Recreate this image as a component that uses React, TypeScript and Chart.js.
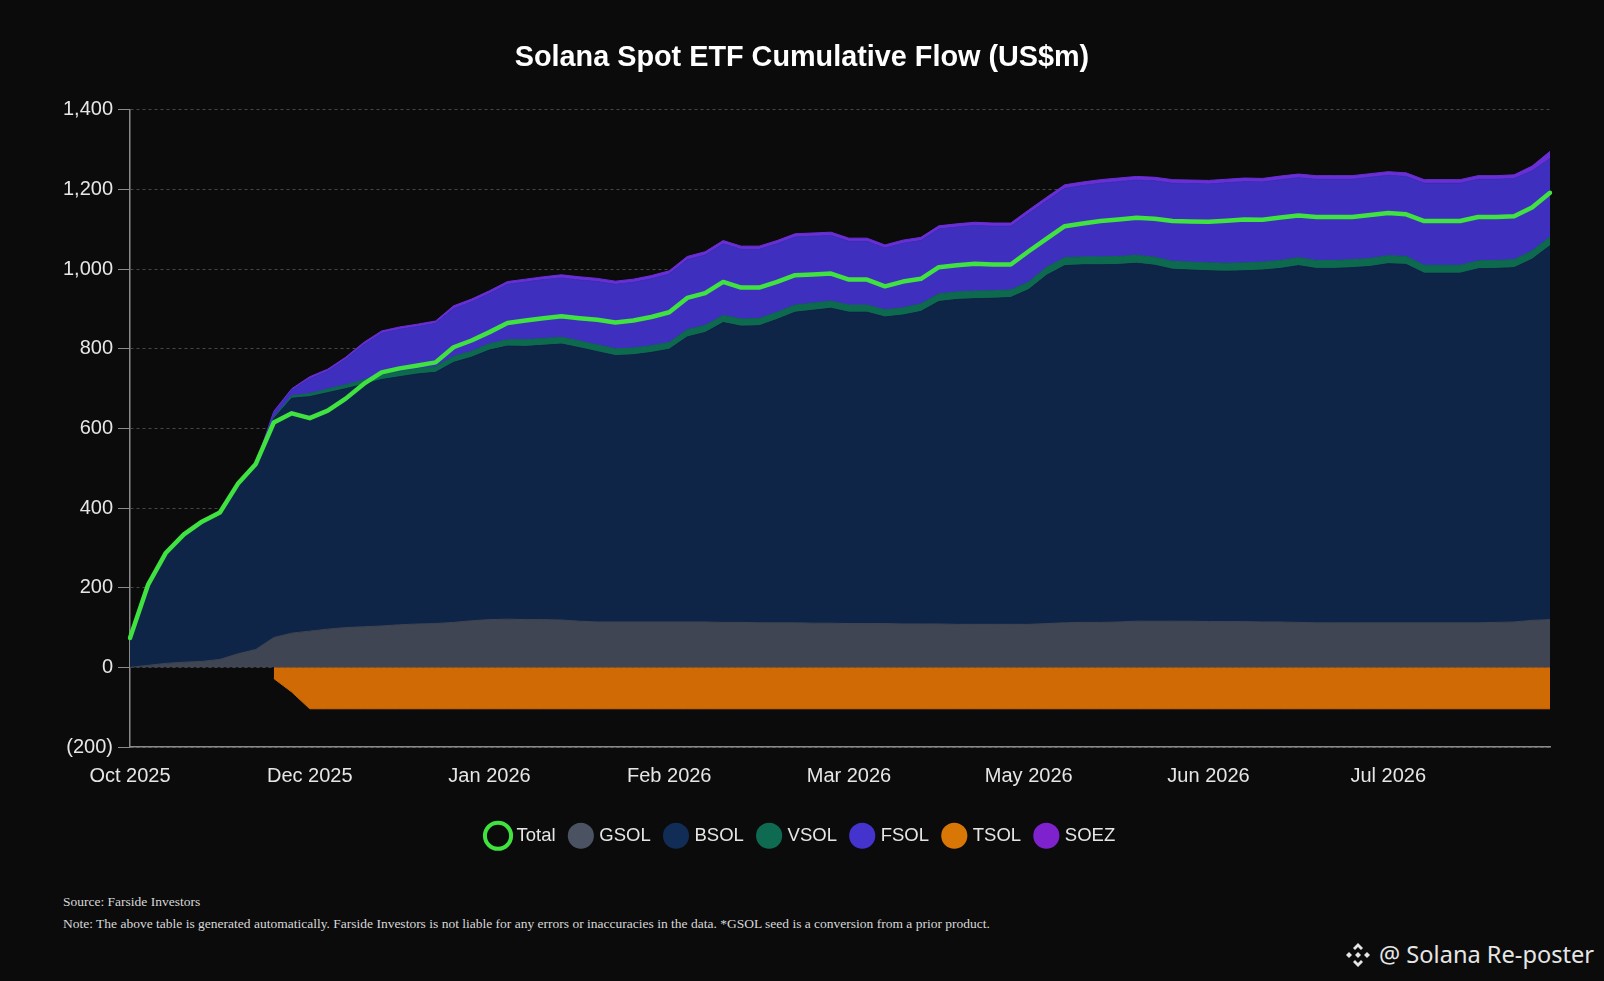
import { useEffect, useRef } from 'react';
import { Chart, registerables } from 'chart.js';

Chart.register(...registerables);

// x axis: one category per sample, a month label every TICK_EVERY samples
const TICK_LABELS = ['Oct 2025', 'Dec 2025', 'Jan 2026', 'Feb 2026', 'Mar 2026', 'May 2026', 'Jun 2026', 'Jul 2026'];
const TICK_EVERY = 10;

const Y_MIN = -200;
const Y_MAX = 1400;
const Y_STEP = 200;

const TOTAL = [
  74, 207, 288, 334, 366, 389, 461, 511, 615, 638,
  626, 645, 675, 712, 741, 751, 758, 766, 804, 821,
  842, 865, 871, 877, 882, 877, 873, 866, 871, 880,
  892, 928, 940, 968, 954, 954, 968, 985, 987, 989,
  974, 974, 957, 969, 976, 1005, 1010, 1014, 1012, 1012,
  1045, 1077, 1108, 1115, 1121, 1125, 1129, 1127, 1121, 1120,
  1119, 1122, 1125, 1124, 1130, 1135, 1131, 1131, 1131, 1136,
  1141, 1138, 1121, 1121, 1121, 1131, 1131, 1133, 1155, 1192,
];

const GSOL = [
  0, 5, 10, 13, 15, 20, 34, 45, 75, 86,
  91, 96, 100, 102, 104, 107, 109, 110, 113, 117,
  120, 121, 120, 120, 119, 116, 114, 114, 114, 114,
  114, 114, 114, 113, 113, 112, 112, 112, 111, 111,
  110, 110, 110, 109, 109, 109, 108, 108, 108, 108,
  108, 110, 112, 113, 113, 114, 116, 116, 116, 116,
  115, 115, 115, 114, 114, 113, 112, 112, 112, 112,
  112, 112, 112, 112, 112, 112, 113, 114, 118, 120,
];

const BSOL = [
  74, 202, 278, 321, 351, 369, 427, 466, 550, 590,
  589, 594, 600, 609, 619, 623, 628, 631, 653, 662,
  677, 686, 686, 689, 693, 687, 679, 669, 671, 677,
  685, 716, 727, 753, 744, 746, 762, 780, 786, 791,
  782, 782, 770, 776, 785, 810, 816, 818, 819, 821,
  841, 875, 897, 898, 898, 898, 899, 894, 884, 882,
  881, 880, 881, 884, 888, 896, 890, 890, 892, 895,
  902, 900, 878, 878, 878, 889, 889, 890, 907, 939,
];

const VSOL = [
  0, 0, 0, 0, 0, 0, 0, 0, 3, 6,
  8, 9, 10, 11, 12, 13, 13, 14, 15, 15,
  16, 16, 17, 17, 17, 17, 17, 17, 17, 17,
  17, 18, 18, 18, 18, 18, 18, 18, 18, 18,
  18, 18, 18, 18, 19, 19, 19, 19, 19, 19,
  19, 20, 20, 20, 20, 20, 20, 20, 20, 20,
  20, 20, 20, 20, 20, 20, 20, 20, 20, 20,
  20, 20, 20, 20, 20, 20, 20, 20, 21, 22,
];

const FSOL = [
  0, 0, 0, 0, 0, 0, 0, 0, 12, 14,
  37, 45, 64, 88, 104, 106, 106, 109, 120, 124,
  126, 139, 145, 148, 149, 153, 159, 162, 165, 168,
  172, 176, 177, 180, 175, 174, 172, 171, 168, 165,
  160, 160, 155, 162, 159, 163, 163, 165, 162, 160,
  172, 167, 174, 179, 185, 188, 189, 192, 196, 197,
  198, 202, 204, 201, 203, 201, 204, 204, 202, 204,
  202, 201, 206, 206, 206, 205, 204, 204, 201, 197,
];

const TSOL = [
  null, null, null, null, null, null, null, null, -28, -62,
  -104, -104, -104, -104, -104, -104, -104, -104, -104, -104,
  -104, -104, -104, -104, -104, -104, -104, -104, -104, -104,
  -104, -104, -104, -104, -104, -104, -104, -104, -104, -104,
  -104, -104, -104, -104, -104, -104, -104, -104, -104, -104,
  -104, -104, -104, -104, -104, -104, -104, -104, -104, -104,
  -104, -104, -104, -104, -104, -104, -104, -104, -104, -104,
  -104, -104, -104, -104, -104, -104, -104, -104, -104, -104,
];

const SOEZ = [
  0, 0, 0, 0, 0, 0, 0, 0, 3, 4,
  5, 5, 5, 6, 6, 6, 6, 6, 7, 7,
  7, 7, 7, 7, 8, 8, 8, 8, 8, 8,
  8, 8, 8, 8, 8, 8, 8, 8, 8, 8,
  8, 8, 8, 8, 8, 8, 8, 8, 8, 8,
  9, 9, 9, 9, 9, 9, 9, 9, 9, 9,
  9, 9, 9, 9, 9, 9, 9, 9, 9, 9,
  9, 9, 9, 9, 9, 9, 9, 9, 12, 18,
];

const CATEGORIES = TOTAL.map((_, i) => i);

const BG = '#0b0b0c';
const GREEN = '#3fe23f';
const FONT = '"Liberation Sans", Arial, sans-serif';
const SERIF = '"Liberation Serif", "Times New Roman", serif';

// area fill colours, and the (slightly brighter) legend dot colours
const AREA = {
  gsol: '#3f4553',
  bsol: '#0f2548',
  vsol: '#0e6a4f',
  fsol: '#3e2fbe',
  tsol: '#cf6a04',
  soez: '#6a2fd4',
};
const LEGEND_COLORS = ['transparent', '#4b5262', '#112c55', '#0e6b52', '#4433cc', '#d97706', '#7e22ce'];

function area(label: string, data: (number | null)[], color: string, fill: string | number, extra: object = {}) {
  return {
    label,
    data,
    backgroundColor: color,
    borderColor: color,
    borderWidth: 1,
    pointRadius: 0,
    pointHoverRadius: 0,
    tension: 0,
    fill,
    ...extra,
  };
}

function ChartCanvas(): React.JSX.Element {
  const canvasRef = useRef<HTMLCanvasElement>(null);
  const chartRef = useRef<Chart | null>(null);

  useEffect(() => {
    if (!canvasRef.current) return;
    if (chartRef.current) chartRef.current.destroy();

    chartRef.current = new Chart(canvasRef.current, {
      type: 'line',
      data: {
        labels: CATEGORIES,
        datasets: [
          {
            label: 'Total',
            data: TOTAL,
            borderColor: GREEN,
            backgroundColor: 'transparent',
            borderWidth: 4.5,
            borderJoinStyle: 'round',
            borderCapStyle: 'round',
            pointRadius: 0,
            pointHoverRadius: 0,
            tension: 0,
            fill: false,
            stack: 'total',
          },
          area('GSOL', GSOL, AREA.gsol, 'origin'),
          area('BSOL', BSOL, AREA.bsol, '-1'),
          area('VSOL', VSOL, AREA.vsol, '-1'),
          area('FSOL', FSOL, AREA.fsol, '-1'),
          area('TSOL', TSOL, AREA.tsol, 'origin', { stack: 'tsol' }),
          area('SOEZ', SOEZ, AREA.soez, 4),
        ],
      } as any,
      options: {
        animation: false,
        responsive: false,
        events: [],
        // equal side padding keeps title and legend centred on the page
        layout: { padding: { left: 54, right: 54, top: 0, bottom: 0 } },
        plugins: {
          tooltip: { enabled: false },
          title: {
            display: true,
            text: 'Solana Spot ETF Cumulative Flow (US$m)',
            color: '#ffffff',
            font: { family: FONT, size: 28.8, weight: 'bold' },
            padding: { top: 41, bottom: 34.4 },
          },
          legend: {
            position: 'bottom',
            labels: {
              usePointStyle: true,
              pointStyle: 'circle',
              padding: 16,
              color: '#e6e6e6',
              font: { family: FONT, size: 18.5 },
              generateLabels: (chart: Chart) =>
                chart.data.datasets.map((ds, i) => ({
                  text: ds.label as string,
                  fillStyle: LEGEND_COLORS[i],
                  strokeStyle: i === 0 ? GREEN : 'transparent',
                  lineWidth: i === 0 ? 4 : 0,
                  pointStyle: 'circle',
                  hidden: false,
                  datasetIndex: i,
                  fontColor: '#e6e6e6',
                })),
            },
          },
        },
        scales: {
          x: {
            type: 'category',
            afterFit: (scale: any) => {
              scale.height = 63.5;
            },
            grid: { display: false, drawTicks: false },
            border: { display: true, color: '#8a8a8a', width: 1.5 },
            ticks: {
              autoSkip: false,
              maxRotation: 0,
              minRotation: 0,
              padding: 17,
              color: '#e6e6e6',
              font: { family: FONT, size: 20 },
              callback: (_v: any, idx: number) => (idx % TICK_EVERY === 0 ? TICK_LABELS[idx / TICK_EVERY] ?? '' : ''),
            },
          },
          y: {
            stacked: true,
            min: Y_MIN,
            max: Y_MAX,
            afterFit: (scale: any) => {
              scale.width = 76;
            },
            grid: {
              color: '#474747',
              lineWidth: 1,
              tickColor: '#8a8a8a',
              tickLength: 12,
              drawTicks: true,
            },
            border: { display: true, color: '#8a8a8a', width: 1.5, dash: [3, 3] },
            ticks: {
              stepSize: Y_STEP,
              padding: 5,
              color: '#e6e6e6',
              font: { family: FONT, size: 20 },
              callback: (v: any) => (v < 0 ? `(${Math.abs(v)})` : Number(v).toLocaleString('en-US')),
            },
          },
        },
      } as any,
    });

    return () => {
      chartRef.current?.destroy();
      chartRef.current = null;
    };
  }, []);

  return <canvas ref={canvasRef} width={1604} height={855} style={{ display: 'block' }} />;
}

function BinanceMark(): React.JSX.Element {
  return (
    <svg width="26" height="26" viewBox="0 0 26 26" style={{ position: 'absolute', left: 1345, top: 942 }}>
      <g fill="#e6e6e6">
        <path d="M13 1 L18 6 L16 8 L13 5 L10 8 L8 6 Z" />
        <path d="M13 25 L18 20 L16 18 L13 21 L10 18 L8 20 Z" />
        <path d="M1 13 L4 10 L7 13 L4 16 Z" />
        <path d="M25 13 L22 10 L19 13 L22 16 Z" />
        <path d="M13 10 L16 13 L13 16 L10 13 Z" />
      </g>
    </svg>
  );
}

const noteStyle: React.CSSProperties = {
  position: 'absolute',
  left: 63,
  fontFamily: SERIF,
  fontSize: 13.5,
  lineHeight: '16px',
  color: '#d8d8d8',
  whiteSpace: 'nowrap',
};

export default function App(): React.JSX.Element {
  return (
    <div
      style={{
        position: 'fixed',
        left: 0,
        top: 0,
        width: 1604,
        height: 981,
        background: BG,
        overflow: 'hidden',
      }}
    >
      <ChartCanvas />
      <div style={{ ...noteStyle, top: 894 }}>Source: Farside Investors</div>
      <div style={{ ...noteStyle, top: 916 }}>
        Note: The above table is generated automatically. Farside Investors is not liable for any errors or
        inaccuracies in the data. *GSOL seed is a conversion from a prior product.
      </div>
      <BinanceMark />
      <div
        style={{
          position: 'absolute',
          left: 1379,
          top: 939,
          fontFamily: '"Noto Sans", sans-serif',
          fontSize: 23.6,
          lineHeight: '30px',
          color: '#e6e6e6',
          whiteSpace: 'nowrap',
        }}
      >
        @ Solana Re-poster
      </div>
    </div>
  );
}
